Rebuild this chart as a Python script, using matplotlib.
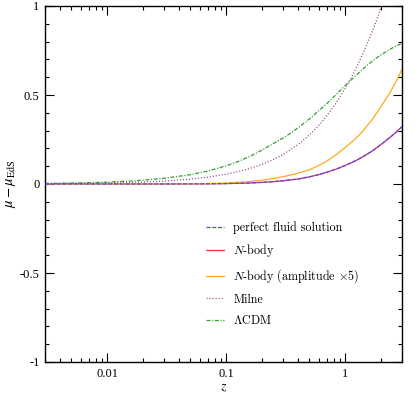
import matplotlib
matplotlib.use("Agg")
import matplotlib.pyplot as plt
from matplotlib.ticker import FixedLocator, LogLocator, NullFormatter, FixedFormatter

plt.rcParams['mathtext.fontset'] = 'cm'
plt.rcParams['axes.unicode_minus'] = False

# ---- data ----
z_fluid = [0.003, 0.01, 0.03, 0.05, 0.07, 0.1, 0.15, 0.2, 0.25, 0.3, 0.4, 0.5, 0.6, 0.7, 0.85, 1.0, 1.2, 1.4, 1.7, 2.0, 2.4, 2.7, 3.0]
mu_fluid = [0.0, 0.0, 0.0002, 0.0006, 0.0011, 0.0023, 0.0051, 0.009, 0.0133, 0.018, 0.028, 0.04, 0.053, 0.066, 0.085, 0.104, 0.128, 0.152, 0.187, 0.222, 0.264, 0.293, 0.322]
z_nbody = [0.003, 0.01, 0.03, 0.05, 0.07, 0.1, 0.15, 0.2, 0.25, 0.3, 0.4, 0.5, 0.6, 0.7, 0.85, 1.0, 1.2, 1.4, 1.7, 2.0, 2.4, 2.7, 3.0]
mu_nbody = [0.0, 0.0, 0.0002, 0.0006, 0.0011, 0.0023, 0.0051, 0.009, 0.0133, 0.018, 0.028, 0.04, 0.053, 0.066, 0.085, 0.104, 0.128, 0.152, 0.187, 0.222, 0.264, 0.293, 0.322]
z_nbody5 = [0.003, 0.01, 0.03, 0.05, 0.07, 0.1, 0.15, 0.2, 0.25, 0.3, 0.4, 0.5, 0.6, 0.7, 0.85, 1.0, 1.2, 1.4, 1.7, 2.0, 2.4, 2.7, 3.0]
mu_nbody5 = [0.0, 0.0001, 0.0005, 0.0014, 0.0027, 0.0055, 0.0125, 0.021, 0.031, 0.041, 0.06, 0.08, 0.104, 0.128, 0.168, 0.205, 0.25, 0.296, 0.365, 0.435, 0.518, 0.582, 0.645]
z_milne = [0.003, 0.01, 0.02, 0.03, 0.05, 0.07, 0.1, 0.15, 0.2, 0.25, 0.3, 0.4, 0.5, 0.6, 0.7, 0.85, 1.0, 1.15, 1.3, 1.45, 1.6, 1.75, 1.9, 2.0, 2.1]
mu_milne = [0.0016, 0.0054, 0.0109, 0.0164, 0.0273, 0.0383, 0.0548, 0.0825, 0.1103, 0.138, 0.1657, 0.2209, 0.2756, 0.3295, 0.3827, 0.4607, 0.5366, 0.6104, 0.682, 0.7515, 0.819, 0.8846, 0.9482, 0.9896, 1.0303]
z_lcdm = [0.003, 0.005, 0.007, 0.01, 0.015, 0.02, 0.03, 0.05, 0.07, 0.1, 0.13, 0.16, 0.2, 0.25, 0.3, 0.35, 0.4, 0.5, 0.6, 0.7, 0.85, 1.0, 1.2, 1.5, 1.8, 2.1, 2.5, 3.0]
mu_lcdm = [0.0032, 0.0053, 0.0075, 0.0107, 0.016, 0.0213, 0.032, 0.0525, 0.073, 0.102, 0.13, 0.157, 0.19, 0.228, 0.258, 0.287, 0.315, 0.365, 0.412, 0.452, 0.506, 0.553, 0.603, 0.663, 0.705, 0.735, 0.765, 0.79]

labels = ['perfect fluid solution', r'$N$-body', r'$N$-body (amplitude $\times 5$)', 'Milne', r'$\Lambda$CDM']
yticks = [-1, -0.5, 0, 0.5, 1]
yticklabels = ['-1', '-0.5', '0', '0.5', '1']
xticks = [0.01, 0.1, 1]
xticklabels = ['0.01', '0.1', '1']

fig = plt.figure(figsize=(4.15, 3.94), dpi=100)
ax = fig.add_axes([45/415, 1-362/394, 357/415, 356/394])

lw = 0.9
h_red, = ax.plot(z_nbody, mu_nbody, color='#ff3030', lw=lw, zorder=2)
h_blue, = ax.plot(z_fluid, mu_fluid, color='#4a4aff', lw=lw, ls=(0, (3.2, 1.4)), zorder=3)
h_or, = ax.plot(z_nbody5, mu_nbody5, color='#ffa820', lw=lw, zorder=2)
h_mil, = ax.plot(z_milne, mu_milne, color='#9a4a8a', lw=lw, ls=(0, (0.9, 1.5)), zorder=2)
h_lc, = ax.plot(z_lcdm, mu_lcdm, color='#2ea02e', lw=lw, ls=(0, (3.2, 1.3, 0.9, 1.3)), zorder=2)

ax.set_xscale('log')
ax.set_xlim(0.003, 3)
ax.set_ylim(-1, 1)

ax.yaxis.set_major_locator(FixedLocator(yticks))
ax.yaxis.set_major_formatter(FixedFormatter(yticklabels))
ax.yaxis.set_minor_locator(FixedLocator([i/10 for i in range(-10, 11)]))
ax.xaxis.set_major_locator(FixedLocator(xticks))
ax.xaxis.set_major_formatter(FixedFormatter(xticklabels))
ax.xaxis.set_minor_locator(LogLocator(base=10, subs=range(2, 10)))
ax.xaxis.set_minor_formatter(NullFormatter())
for lab in ax.get_xticklabels() + ax.get_yticklabels():
    lab.set_fontfamily('Liberation Serif')
    lab.set_fontsize(9)

ax.tick_params(which='both', direction='in', top=True, right=True, width=0.8)
ax.tick_params(which='major', length=6.5, pad=4)
ax.tick_params(which='minor', length=3)
for s in ax.spines.values():
    s.set_linewidth(1.0)

ax.set_xlabel(r'$z$', fontsize=10, math_fontfamily='stix', labelpad=0)
ax.set_ylabel(r'$\mu - \mu_{\rm EdS}$', fontsize=10.5, math_fontfamily='stix', labelpad=1)

leg = ax.legend([h_blue, h_red, h_or, h_mil, h_lc], labels,
                loc='upper left', bbox_to_anchor=(0.451, 0.395),
                frameon=False, prop={'family': 'cmr10', 'size': 8.7},
                handlelength=1.5, handletextpad=0.75, labelspacing=0.68,
                borderpad=0, borderaxespad=0)

fig.savefig('out.png', dpi=100)
